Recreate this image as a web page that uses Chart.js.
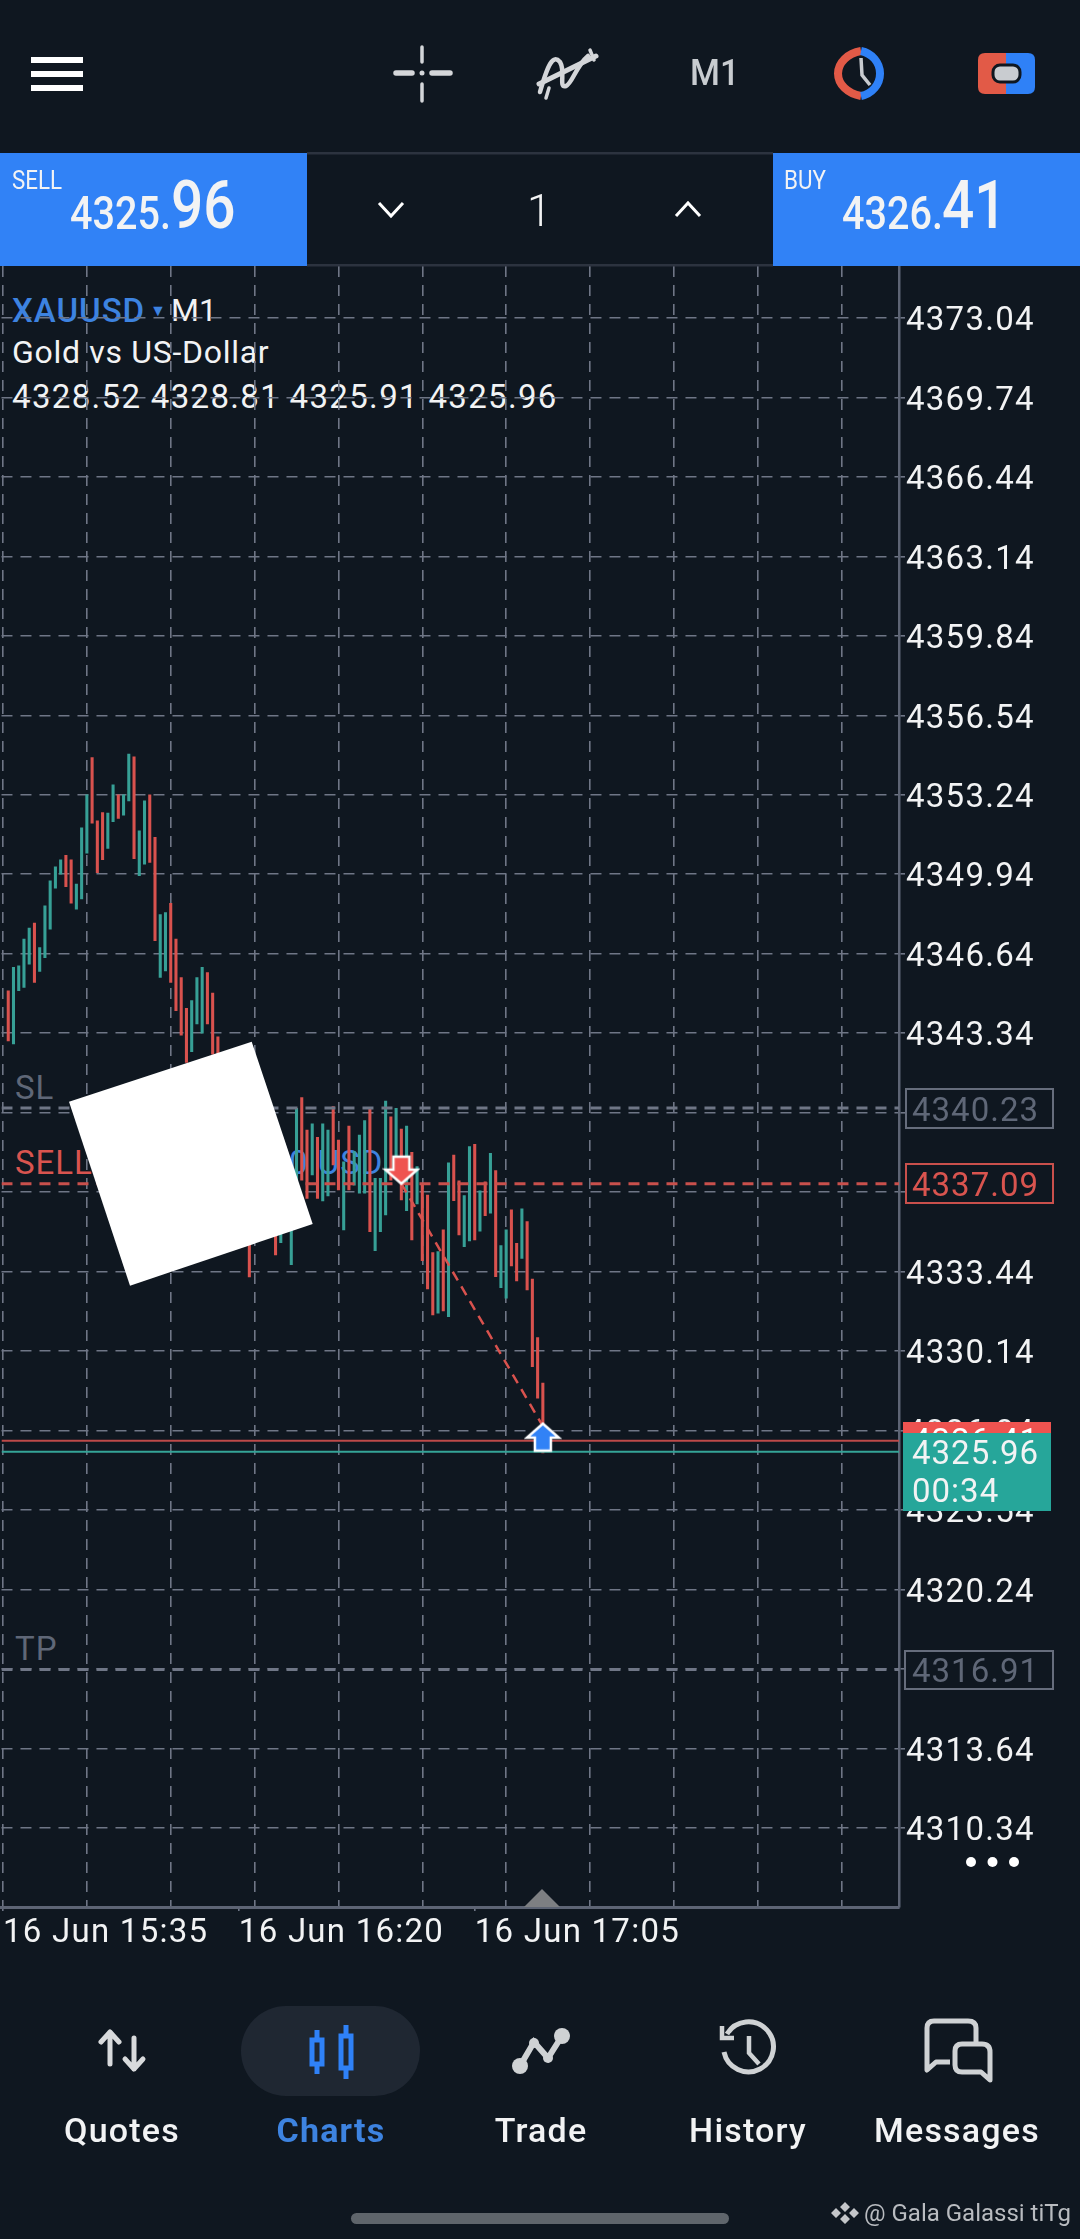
<!DOCTYPE html>
<html>
<head>
<meta charset="utf-8">
<title>XAUUSD M1</title>
<script src="https://cdn.jsdelivr.net/npm/chart.js@4/dist/chart.umd.js"></script>
<style>
    html, body { margin: 0; padding: 0; width: 1080px; height: 2239px; overflow: hidden; background: #0f1720; }
    body { position: relative; font-family: Roboto, sans-serif; color: #f2f3f4; }
    #chart { position: absolute; left: 0; top: 0; z-index: 2; }
    #overlay { position: absolute; left: 0; top: 0; z-index: 3; }
    .t { position: absolute; white-space: nowrap; line-height: 1; transform: translateY(-50%); z-index: 1; font-size: 33px; letter-spacing: 1px; }
    .top { z-index: 4; }
    .box { position: absolute; box-sizing: border-box; z-index: 4; background: #0f1720; border: 2.5px solid #666d7c; }
    .block { position: absolute; z-index: 4; }
    .narrow { transform: translateY(-50%) scaleX(.86); transform-origin: left center; letter-spacing: 0; font-weight: 500; }
    .nav { font-weight: 500; font-size: 34px; letter-spacing: 1.2px; transform: translate(-50%, -50%); z-index: 4; }
</style>
</head>
<body>
<canvas id="chart" width="1080" height="2239"></canvas>

<!-- chart texts, under the bars -->
<div class="t" style="left:12px;top:310px;color:#3d83e0;font-weight:500;font-size:33px">XAUUSD</div>
<div class="t" style="left:150px;top:311px;color:#3d83e0;font-size:16px;letter-spacing:0">&#9660;</div>
<div class="t" style="left:171px;top:310px;font-size:32px;letter-spacing:0">M1</div>
<div class="t" style="left:12px;top:352px;font-size:32px;letter-spacing:.7px">Gold vs US-Dollar</div>
<div class="t" style="left:12px;top:396px;letter-spacing:1.33px">4328.52 4328.81 4325.91 4325.96</div>
<div class="t" style="left:15px;top:1087px;color:#5f6777">SL</div>
<div class="t" style="left:15px;top:1162px;color:#d9544f">SELL</div>
<div class="t" style="left:289px;top:1162px;color:#3d83e0;font-size:33px;letter-spacing:1px">0 USD</div>
<div class="t" style="left:15px;top:1648px;color:#5f6777">TP</div>

<svg id="overlay" width="1080" height="2239" xmlns="http://www.w3.org/2000/svg">
    <!-- header icons -->
    <rect x="31" y="57" width="52" height="6" fill="#fff"/>
    <rect x="31" y="71" width="52" height="6" fill="#fff"/>
    <rect x="31" y="85" width="52" height="6" fill="#fff"/>
    <g stroke="#d4d6d9" stroke-linecap="round" fill="none">
        <path d="M422 47V62M422 84V101" stroke-width="3.5"/>
        <path d="M396 73H412M432 73H450" stroke-width="5.5"/>
    </g>
    <circle cx="422" cy="73" r="2.5" fill="#d4d6d9"/>
    <g stroke="#d4d6d9" stroke-linecap="round" fill="none" stroke-width="4.5">
        <path d="M540 92C548 64 553 54 560 62C566 72 558 88 566 86C572 84 576 66 588 56"/>
        <path d="M539 84L596 56" stroke-width="5"/>
        <path d="M546 98L549 88M590 50L594 60" stroke-width="3.5"/>
    </g>
    <path d="M861 51A29 23 0 0 0 861 96" fill="none" stroke="#e25a47" stroke-width="8"/>
    <path d="M861 51A24 23 0 0 1 861 96" fill="none" stroke="#2f81f7" stroke-width="8"/>
    <path d="M861 58L862 75L870 85" fill="none" stroke="#c9ccd0" stroke-width="3.5"/>
    <path d="M1006 53H985Q978 53 978 60V87Q978 94 985 94H1006Z" fill="#e25a47"/>
    <path d="M1006 53H1028Q1035 53 1035 60V87Q1035 94 1028 94H1006Z" fill="#2f81f7"/>
    <rect x="993" y="65" width="27" height="17" rx="7" fill="#c9ccd0" stroke="#0f1720" stroke-width="3"/>

    <!-- price panel -->
    <rect x="0" y="153" width="307" height="113" fill="#3182f6"/>
    <rect x="773" y="153" width="307" height="113" fill="#3182f6"/>
    <rect x="307" y="152" width="466" height="2.5" fill="#2c333f"/>
    <rect x="307" y="264" width="466" height="2.5" fill="#2c333f"/>
    <path d="M379 203L391 216L403 203M676 216L688 203L700 216" fill="none" stroke="#fff" stroke-width="3"/>

    <!-- redaction block of the screenshot -->
    <polygon points="69,1101.7 251.7,1041.7 312.7,1224 130,1285.7" fill="#ffffff"/>

    <!-- axis extras -->
    <circle cx="971" cy="1862" r="5" fill="#fff"/>
    <circle cx="992.5" cy="1862" r="5" fill="#fff"/>
    <circle cx="1014" cy="1862" r="5" fill="#fff"/>
    <polygon points="524,1907 542,1889 560,1907" fill="#7d7f82"/>

    <!-- bottom navigation -->
    <rect x="241" y="2006" width="179" height="90" rx="45" fill="#1f2732"/>
    <g stroke="#d8dadc" stroke-width="5" fill="none" stroke-linecap="round" stroke-linejoin="round">
        <path d="M110 2064V2032M101 2042L110 2032L119 2042"/>
        <path d="M134 2038V2069M125 2059L134 2069L143 2059"/>
    </g>
    <g stroke="#2f81f7" stroke-width="5" fill="none">
        <rect x="312" y="2040" width="10" height="24"/>
        <path d="M317 2030V2040M317 2064V2074"/>
        <rect x="341" y="2036" width="10" height="32"/>
        <path d="M346 2025V2036M346 2068V2079"/>
    </g>
    <path d="M520 2066L534 2042L548 2058L562 2036" fill="none" stroke="#cfd2d4" stroke-width="6"/>
    <circle cx="520" cy="2066" r="8" fill="#cfd2d4"/>
    <circle cx="534" cy="2043" r="5" fill="#cfd2d4"/>
    <circle cx="548" cy="2058" r="5" fill="#cfd2d4"/>
    <circle cx="562" cy="2036" r="8" fill="#cfd2d4"/>
    <path d="M727 2034A25 25 0 1 1 724 2052" fill="none" stroke="#cfd2d4" stroke-width="5"/>
    <path d="M722 2026V2038H734M749 2036V2053L759 2064" fill="none" stroke="#cfd2d4" stroke-width="4.5"/>
    <g fill="none" stroke="#cfd2d4" stroke-width="5" stroke-linejoin="round">
        <path d="M950 2062H936L927 2070V2028Q927 2021 934 2021H968Q976 2021 976 2028V2042"/>
        <path d="M962 2044H982Q990 2044 990 2052V2080L981 2072H962Q955 2072 955 2065V2051Q955 2044 962 2044Z"/>
    </g>
    <rect x="351" y="2213" width="378" height="11" rx="5.5" fill="#5f656b"/>
    <g fill="#c4c6c9">
        <path d="M845 2202l5 5-5 5-5-5zM845 2214l5 5-5 5-5-5zM836 2208l5 5-5 5-5-5zM854 2208l5 5-5 5-5-5z"/>
    </g>
</svg>

<!-- header and panel texts -->
<div class="t top narrow" style="left:690px;top:73px;font-size:36px;color:#c8ccd0;transform:translateY(-50%) scaleX(.95)">M1</div>
<div class="t top narrow" style="left:12px;top:180px;font-size:26px;font-weight:400">SELL</div>
<div class="t top narrow" style="left:70px;top:213px;font-size:46px">4325.</div>
<div class="t top narrow" style="left:171px;top:206px;font-size:66px">96</div>
<div class="t top narrow" style="left:784px;top:180px;font-size:26px;font-weight:400">BUY</div>
<div class="t top narrow" style="left:842px;top:213px;font-size:46px">4326.</div>
<div class="t top narrow" style="left:942px;top:206px;font-size:66px">41</div>
<div class="t top" style="left:527px;top:211px;font-size:44px;font-weight:300;letter-spacing:0">1</div>

<!-- price boxes -->
<div class="box" style="left:905px;top:1088px;width:149px;height:41px"></div>
<div class="t top" style="left:912px;top:1109px;color:#5f6777">4340.23</div>
<div class="box" style="left:905px;top:1163px;width:149px;height:41px;border-color:#c9504c"></div>
<div class="t top" style="left:912px;top:1184px;color:#d9544f">4337.09</div>
<div class="box" style="left:904px;top:1650px;width:150px;height:40px"></div>
<div class="t top" style="left:912px;top:1670px;color:#5f6777">4316.91</div>
<div class="block" style="left:903px;top:1422px;width:148px;height:11px;background:#ef5350;overflow:hidden">
    <div style="position:absolute;left:9px;top:2px;font-size:33px;line-height:33px;letter-spacing:1px;color:#fff">4326.41</div>
</div>
<div class="block" style="left:903px;top:1433px;width:148px;height:78px;background:#26a69a"></div>
<div class="t top" style="left:912px;top:1452px">4325.96</div>
<div class="t top" style="left:912px;top:1490px">00:34</div>

<!-- bottom texts -->
<div class="t nav" style="left:122px;top:2130px">Quotes</div>
<div class="t nav" style="left:331px;top:2130px;color:#3d83e0;font-weight:700">Charts</div>
<div class="t nav" style="left:541px;top:2130px">Trade</div>
<div class="t nav" style="left:748px;top:2130px">History</div>
<div class="t nav" style="left:957px;top:2130px">Messages</div>
<div class="t top" style="left:864px;top:2213px;font-size:24px;letter-spacing:0;color:#b9bcc0">@ Gala Galassi tiTg</div>

<script>
// y axis
const priceTicks = [4373.04, 4369.74, 4366.44, 4363.14, 4359.84, 4356.54, 4353.24, 4349.94, 4346.64, 4343.34,
    4340.04, 4336.74, 4333.44, 4330.14, 4326.84, 4323.54, 4320.24, 4316.94, 4313.64, 4310.34];
const hiddenPrices = [4340.04, 4336.74, 4316.94]; // covered by the SL / SELL / TP boxes

// one entry per minute bar, index 0 is 15:35; null = hidden behind the white block
const barHigh = [null, 4345.10, 4346.07, 4346.14, 4347.25, 4347.70, 4347.91, 4346.89, 4348.63, 4349.67,
    4350.25, 4350.54, 4350.73, 4350.54, 4349.53, 4351.87, 4353.24, 4354.79, 4352.16, 4352.50,
    4352.48, 4353.65, 4353.24, 4353.24, 4354.93, 4354.82, 4351.74, 4352.99, 4353.24, 4351.47,
    4348.26, 4348.35, 4348.73, 4347.25, 4345.65, 4344.37, 4344.69, 4345.65, 4346.07, 4345.86,
    4345.00, 4343.19, null, null, null, null, null, 4334.75, null, null,
    null, null, 4335.79, 4336.00, null, 4335.58, 4340.22, 4340.66, 4339.32, 4339.57,
    4339.01, 4339.57, 4339.32, 4340.29, 4338.90, 4338.00, 4339.48, 4338.42, 4339.11, 4339.71,
    4340.22, 4337.31, 4337.31, 4340.52, 4339.87, 4340.22, 4339.36, 4339.48, 4338.39, 4337.80,
    4337.10, 4336.62, 4334.23, 4334.27, 4335.17, 4337.96, 4338.28, 4337.21, 4336.59, 4338.63,
    4338.72, 4336.79, 4337.17, 4338.35, 4337.63, 4334.52, 4335.17, 4336.00, 4334.61, 4336.04,
    4335.51, 4333.13, 4330.70, 4328.81];
const barLow = [null, 4343.02, 4342.89, 4345.10, 4345.24, 4346.21, 4345.45, 4345.90, 4346.48, 4347.66,
    4349.36, 4349.94, 4349.42, 4348.74, 4348.49, 4348.91, 4350.82, 4352.06, 4350.01, 4350.54,
    4351.01, 4352.12, 4352.26, 4352.39, 4352.99, 4350.59, 4349.88, 4350.36, 4350.43, 4347.18,
    4345.65, 4345.93, 4345.45, 4344.27, 4343.26, 4342.12, 4342.57, 4343.72, 4343.34, 4343.72,
    4342.47, 4342.40, null, null, null, null, null, 4333.22, null, null,
    null, null, 4334.13, 4334.64, null, 4333.73, 4336.83, 4337.24, 4336.48, 4337.45,
    4336.48, 4336.37, 4336.58, 4337.87, 4336.83, 4335.17, 4336.83, 4337.03, 4336.69, 4336.69,
    4335.10, 4334.31, 4335.10, 4335.79, 4337.24, 4337.87, 4336.41, 4335.97, 4334.75, 4336.25,
    4333.89, 4332.72, 4331.64, 4331.71, 4331.80, 4331.57, 4336.38, 4334.96, 4334.47, 4334.71,
    4334.75, 4335.12, 4335.76, 4335.86, 4333.23, 4332.77, 4332.33, 4333.67, 4333.05, 4333.99,
    4332.68, 4329.49, 4328.18, 4325.91];
// R = down bar, T = up bar
const barSide = '-RTTTTRTTTTTRRTTTRRRTTRTTRTTRRTTRRRRTTTRRR-----R----RT-TTRRTRTTRRTRTTTRTTTRTRTRTRRRTRTRRTTRTRTRTTRRTRRRR';

const timeTicks = [0, 45, 90];
const timeLabels = ['16 Jun 15:35', '16 Jun 16:20', '16 Jun 17:05'];
const gridBars = [0, 16, 32, 48, 64, 80, 96, 112, 128, 144, 160];

// price lines
const askLevel = 4326.41;
const bidLevel = 4325.96;
const stopLevel = 4340.23;
const sellLevel = 4337.09;
const takeLevel = 4316.91;
// trade: sold on bar 76, current bar 103
const tradeBars = [76, 103];
const tradeLine = [4337.09, 4327.02];
const tradeMarks = [4337.09, 4325.96];

const RED = '#d9524e';
const TEAL = '#37a096';
const GRID = '#6f7686';
const XMIN = -0.29;
const XMAX = 170.95;

// arrow sits in the upper half, so that its lower end is on the data point
function makeArrow(fill, up) {
    const c = document.createElement('canvas');
    c.width = 38;
    c.height = 60;
    const g = c.getContext('2d');
    if (up) {
        g.translate(0, 32);
        g.scale(1, -1);
    }
    g.beginPath();
    g.moveTo(11, 3);
    g.lineTo(27, 3);
    g.lineTo(27, 16);
    g.lineTo(35, 16);
    g.lineTo(19, 30);
    g.lineTo(3, 16);
    g.lineTo(11, 16);
    g.closePath();
    g.fillStyle = fill;
    g.fill();
    g.lineWidth = 2.5;
    g.strokeStyle = '#ffffff';
    g.stroke();
    return c;
}

function levelLine(value, color, width, dash) {
    return {
        type: 'line',
        data: [{x: XMIN, y: value}, {x: XMAX, y: value}],
        borderColor: color,
        borderWidth: width,
        borderDash: dash,
        pointRadius: 0,
        order: 2
    };
}

const priceBars = barHigh.map(function(h, i) {
    return {x: i, y: h === null ? null : [barLow[i], h]};
});

const ctx = document.getElementById('chart').getContext('2d');
new Chart(ctx, {
    data: {
        datasets: [
            {
                type: 'bar',
                data: priceBars,
                barThickness: 2.4,
                backgroundColor: barHigh.map((h, i) => barSide[i] === 'R' ? RED : TEAL),
                order: 3
            },
            levelLine(stopLevel, '#6f7686', 3, [11, 8]),
            levelLine(sellLevel, '#c9504c', 3, [11, 8]),
            levelLine(takeLevel, '#6f7686', 3, [11, 8]),
            levelLine(askLevel, '#bd4a49', 2, []),
            levelLine(bidLevel, '#35a497', 2, []),
            {
                type: 'line',
                data: tradeBars.map((b, i) => ({x: b, y: tradeLine[i]})),
                borderColor: RED,
                borderWidth: 2.5,
                borderDash: [10, 7],
                pointRadius: 0,
                order: 1
            },
            {
                type: 'line',
                data: tradeBars.map((b, i) => ({x: b, y: tradeMarks[i]})),
                showLine: false,
                pointStyle: [makeArrow('#ef5350', false), makeArrow('#3182f6', true)],
                order: 0
            }
        ]
    },
    options: {
        responsive: false,
        animation: false,
        devicePixelRatio: 1,
        layout: {autoPadding: false, padding: {top: 266, left: 0, right: 0, bottom: 272}},
        plugins: {legend: {display: false}, tooltip: {enabled: false}},
        scales: {
            x: {
                type: 'linear',
                position: 'bottom',
                offset: false,
                weight: 0,
                min: XMIN,
                max: XMAX,
                afterBuildTicks: axis => { axis.ticks = gridBars.map(value => ({value})); },
                afterFit: axis => { axis.height = 0; },
                ticks: {display: false, autoSkip: false},
                grid: {offset: false, color: GRID, lineWidth: 1.6, drawTicks: false},
                border: {display: true, color: '#5d6474', width: 3, dash: [11, 8]}
            },
            xTime: {
                type: 'linear',
                position: 'bottom',
                offset: false,
                weight: 1,
                min: XMIN,
                max: XMAX,
                afterBuildTicks: axis => { axis.ticks = timeTicks.map(value => ({value})); },
                afterFit: axis => { axis.height = 60; },
                ticks: {
                    autoSkip: false,
                    maxRotation: 0,
                    align: 'start',
                    padding: 3,
                    color: '#f2f3f4',
                    font: {family: 'Roboto', size: 33},
                    callback: value => timeLabels[timeTicks.indexOf(value)]
                },
                grid: {drawOnChartArea: false, color: GRID, lineWidth: 1.6, tickLength: 4},
                border: {display: false}
            },
            y: {
                type: 'linear',
                position: 'right',
                min: 4307.05,
                max: 4375.20,
                afterBuildTicks: axis => { axis.ticks = priceTicks.map(value => ({value})); },
                afterFit: axis => { axis.width = 181; },
                ticks: {
                    autoSkip: false,
                    padding: 1,
                    color: '#f2f3f4',
                    // empty first line plus a small line height moves the text 4px down
                    font: {family: 'Roboto', size: 33, lineHeight: '8px'},
                    callback: value => hiddenPrices.includes(value) ? '' : ['', value.toFixed(2)]
                },
                grid: {color: GRID, lineWidth: 1.6, tickLength: 6},
                border: {display: true, color: '#5d6474', width: 2.5, dash: [11, 8]}
            }
        }
    },
    plugins: [{
        id: 'labelSpacing',
        beforeDraw: chart => { chart.ctx.letterSpacing = '1.25px'; }
    }]
});
</script>
</body>
</html>
